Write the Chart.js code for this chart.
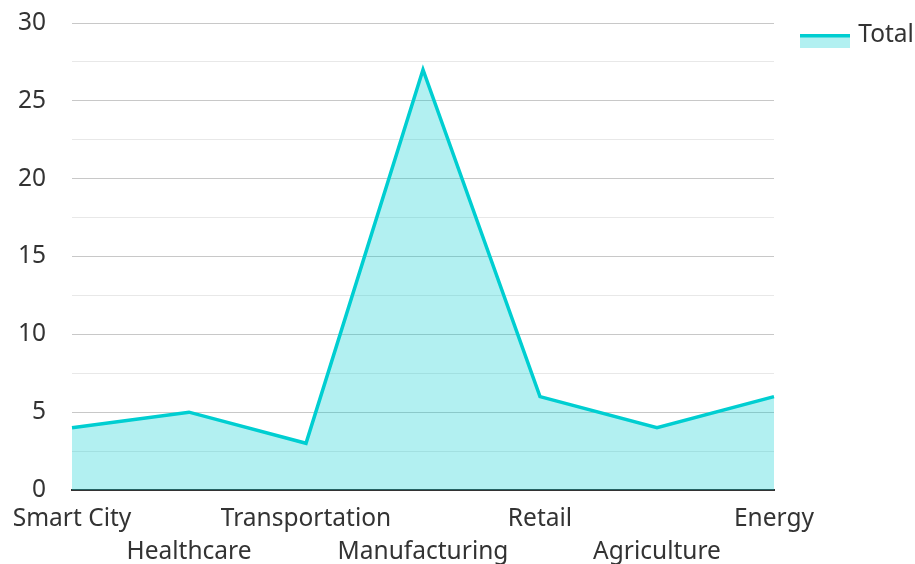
<!DOCTYPE html>
<html>
<head>
<meta charset="utf-8">
<script src="https://cdn.jsdelivr.net/npm/chart.js@4/dist/chart.umd.min.js"></script>
<style>
html,body{margin:0;padding:0;background:#fff;}
#wrap{width:915px;height:564px;position:relative;}
</style>
</head>
<body>
<div id="wrap"><canvas id="c"></canvas></div>
<script>
const categories = ['Smart City','Healthcare','Transportation','Manufacturing','Retail','Agriculture','Energy'];
const totalValues = [4,5,3,27,6,4,6];
const seriesName = 'Total';

const LINE = '#00CED1';
const FILL = 'rgba(0,206,209,0.3)';
const FONT = '"Noto Sans", "Open Sans", sans-serif';
const FS = 24.5;
const LEG_PAD = 3;
const LEG_BOXW = 50;
const LEG_SHIFT = 19;

const legendBoxPlugin = {
  id: 'legendBox',
  afterLayout(chart) {
    const lg = chart.legend;
    if (!lg) return;
    lg.left = chart.chartArea.right + LEG_SHIFT;
    lg.right = lg.left + lg.width;
  },
  afterDraw(chart) {
    const lg = chart.legend;
    if (!lg || !lg.legendHitBoxes) return;
    const ctx = chart.ctx;
    lg.legendHitBoxes.forEach(hb => {
      const x = hb.left + 4;
      const y = hb.top + 11;
      ctx.save();
      ctx.fillStyle = FILL;
      ctx.fillRect(x, y, 50, 14);
      ctx.fillStyle = LINE;
      ctx.fillRect(x, y, 50, 3.5);
      ctx.restore();
    });
  }
};

new Chart(document.getElementById('c'), {
  type: 'line',
  data: {
    labels: categories,
    datasets: [{
      label: seriesName,
      data: totalValues,
      borderColor: LINE,
      backgroundColor: FILL,
      borderWidth: 3.5,
      fill: 'origin',
      pointRadius: 0,
      tension: 0
    }]
  },
  options: {
    responsive: true,
    maintainAspectRatio: false,
    animation: false,
    layout: { padding: { top: 20, left: 0, right: 0, bottom: 0 } },
    plugins: {
      legend: {
        position: 'right',
        align: 'start',
        labels: {
          boxWidth: LEG_BOXW,
          boxHeight: 14,
          padding: LEG_PAD,
          color: '#333',
          font: { family: FONT, size: FS },
          generateLabels(chart) {
            return chart.data.datasets.map((ds, i) => ({
              text: ds.label,
              fillStyle: 'rgba(0,0,0,0)',
              strokeStyle: 'rgba(0,0,0,0)',
              lineWidth: 0,
              datasetIndex: i,
              fontColor: '#333'
            }));
          }
        }
      },
      tooltip: { enabled: false }
    },
    scales: {
      x: {
        offset: false,
        grid: { display: false, drawTicks: false },
        border: { display: true, color: '#333', width: 2 },
        afterFit(s) { s.height = 74; s.paddingLeft = 0; s.paddingRight = 141; },
        ticks: {
          autoSkip: false,
          maxRotation: 0,
          minRotation: 0,
          padding: 13,
          color: '#333',
          font: { family: FONT, size: FS, lineHeight: 1.33 },
          callback(v, i) {
            const l = categories[i];
            return i % 2 === 1 ? ['', l] : l;
          }
        }
      },
      y: {
        min: 0,
        max: 30,
        afterFit(s) { s.width = 72; s.paddingTop = 23; s.paddingBottom = 0; },
        grid: {
          drawTicks: false,
          color: ctx => (ctx.tick && ctx.tick.value % 5 === 0) ? '#c8c8c8' : '#e8e8e8',
          lineWidth: 1
        },
        border: { display: false },
        ticks: {
          stepSize: 2.5,
          padding: 26,
          color: '#333',
          font: { family: FONT, size: FS, lineHeight: 1 },
          callback(v) { return v % 5 === 0 ? String(v) : ''; }
        }
      }
    }
  },
  plugins: [legendBoxPlugin]
});
</script>
</body>
</html>
